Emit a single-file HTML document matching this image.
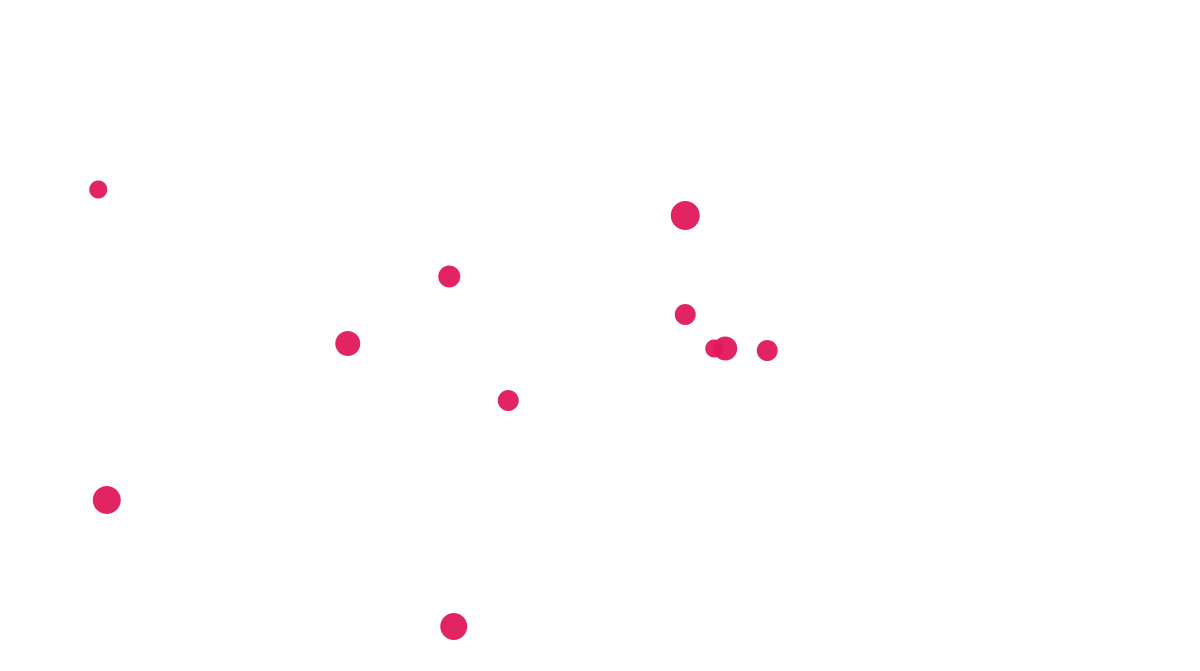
<!DOCTYPE html>
<html><head><meta charset="utf-8"><style>html,body{margin:0;padding:0;background:#fff;}svg{display:block}</style></head>
<body>
<svg width="1200" height="671" viewBox="0 0 1200 671" xmlns="http://www.w3.org/2000/svg">
<g fill="#e2185a" fill-opacity="0.95" transform="translate(0.25,0.5)">
<circle cx="98" cy="189" r="9"/>
<circle cx="685" cy="215" r="14.5"/>
<circle cx="449" cy="276" r="11"/>
<circle cx="347.5" cy="343" r="12.5"/>
<circle cx="685" cy="314" r="10.5"/>
<circle cx="725" cy="348" r="12"/>
<circle cx="714" cy="348" r="9"/>
<circle cx="767" cy="350" r="10.5"/>
<circle cx="508" cy="400" r="10.5"/>
<circle cx="106.5" cy="499.5" r="14"/>
<circle cx="453.5" cy="626" r="13.5"/>
</g>
</svg>
</body></html>
